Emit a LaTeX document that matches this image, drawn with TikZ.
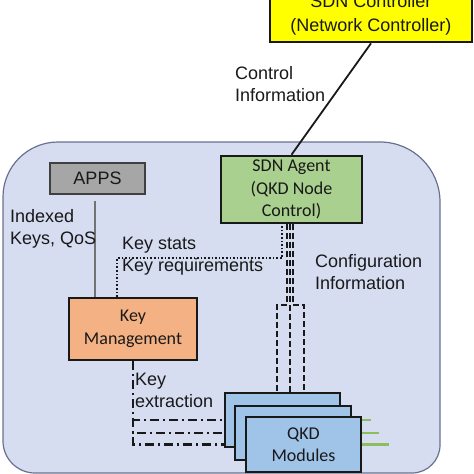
\documentclass[tikz,border=0pt]{standalone}
\usepackage{fontspec}
\setmainfont{Liberation Sans}
\newfontfamily\calibri{Carlito}
\usetikzlibrary{calc}
\pgfdeclarelayer{bg}
\pgfdeclarelayer{lines}
\pgfsetlayers{bg,lines,main}
\definecolor{bigfill}{RGB}{214,221,241}
\definecolor{bigline}{RGB}{105,113,145}
\definecolor{sdnyellow}{RGB}{255,255,0}
\definecolor{appsgray}{RGB}{166,166,166}
\definecolor{agentgreen}{RGB}{169,208,142}
\definecolor{kmorange}{RGB}{244,177,131}
\definecolor{qkdblue}{RGB}{160,195,232}
\definecolor{linkgreen}{RGB}{140,190,95}
\definecolor{txt}{RGB}{25,25,25}
\begin{document}
\begin{tikzpicture}[x=1pt,y=-1pt,
  box/.style={draw=txt, line width=2.6pt, inner sep=0pt, text=txt, align=center},
  cal/.style={font=\calibri\fontsize{18}{22.5}\selectfont},
  lbl/.style={font=\fontsize{18}{22}\selectfont, align=left, inner sep=0pt, anchor=west, text=txt},
  ctrlline/.style={draw=txt, line width=1.8pt},
  appsline/.style={draw=gray!90!black, line width=1.6pt},
  dotline/.style={draw=txt, line width=2pt, dash pattern=on 1.6pt off 2pt},
  dashline/.style={draw=txt, line width=2.2pt, dash pattern=on 6pt off 3pt},
  ddline/.style={draw=txt, line width=2.2pt, dash pattern=on 9pt off 4pt on 2pt off 4pt},
  greenline/.style={draw=linkgreen, line width=2.5pt}]
\useasboundingbox (0,0) rectangle (474,474);
\clip (0,0) rectangle (474,474);
% big domain box
\begin{pgfonlayer}{bg}
\path[fill=bigfill, draw=bigline, line width=1.2pt]
  (3,300) [rounded corners=55pt] |- (220,142)
  [rounded corners=60pt] -| (440,300)
  [rounded corners=28pt] |- (220,473)
  [rounded corners=32pt] -| cycle;
\end{pgfonlayer}
% boxes
\node[box, fill=sdnyellow, minimum width=202pt, minimum height=64pt] (ctrl) at (371,10) {};
\node[inner sep=0pt, text=txt, align=center, font=\fontsize{18}{24}\selectfont] (ctrltxt) at (371,15) {SDN Controller\\(Network Controller)};
\node[box, fill=appsgray, draw=black!75, line width=1.6pt, minimum width=95pt, minimum height=31pt, font=\fontsize{18}{22}\selectfont] (apps) at (97.5,178.5) {APPS};
\node[box, cal, fill=agentgreen, minimum width=141pt, minimum height=67pt] (agent) at (291.5,189.5) {SDN Agent\\(QKD Node\\Control)};
\node[box, cal, fill=kmorange, minimum width=128pt, minimum height=62pt] (km) at (133,329) {Key\\Management};
\node[box, fill=qkdblue, minimum width=115pt, minimum height=54pt] (b1) at (282.5,420) {};
\node[box, fill=qkdblue, minimum width=116pt, minimum height=54pt] (b2) at (293,433) {};
\node[box, cal, fill=qkdblue, minimum width=115pt, minimum height=55pt] (b3) at (303.5,444.5) {QKD\\Modules};
% coordinates for bends
\coordinate (appsx) at (95,0);
\coordinate (dbend) at (117,258);
\coordinate (ax) at (282,0);
\coordinate (d1) at (287,305);
\coordinate (d1b) at (277,0);
\coordinate (d2) at (290,0);
\coordinate (d3) at (293,305);
\coordinate (d3b) at (304,0);
\coordinate (ex) at (133,0);
% labels
\node[lbl] (lctrl) at (235,84) {Control\\Information};
\node[lbl] (lidx) at (10,229) {Indexed\\Keys, QoS};
\node[lbl] (lkey) at (122,256) {Key stats\\Key requirements};
\node[lbl] (lconf) at (315,272) {Configuration\\Information};
\node[lbl] (lext) at (135,390) {Key\\extraction};
% connectors (on the layer behind the boxes)
\begin{pgfonlayer}{lines}
\draw[ctrlline] (ctrl.south) -- (agent.north);
\draw[appsline, shorten <=6pt] (apps.south -| appsx) -- (km.north -| appsx);
\draw[dotline] (km.north -| dbend) -- (dbend) -| (agent.south -| ax);
\draw[dashline] (agent.south -| d1) -- (d1) -| (b1.north -| d1b);
\draw[dashline] (agent.south -| d2) -- (b2.north -| d2);
\draw[dashline] (agent.south -| d3) -- (d3) -| (b3.north -| d3b);
\draw[ddline] (km.south -| ex) -- (ex |- b1.west) -- (b1.west);
\draw[ddline] (km.south -| ex) -- (ex |- b2.west) -- (b2.west);
\draw[ddline] (km.south -| ex) -- (ex |- b3.west) -- (b3.west);
\draw[greenline] (b1.east) -- ++(30,0);
\draw[greenline] (b2.east) -- ++(27,0);
\draw[greenline] (b3.east) -- ++(27,0);
\end{pgfonlayer}
\end{tikzpicture}
\end{document}
